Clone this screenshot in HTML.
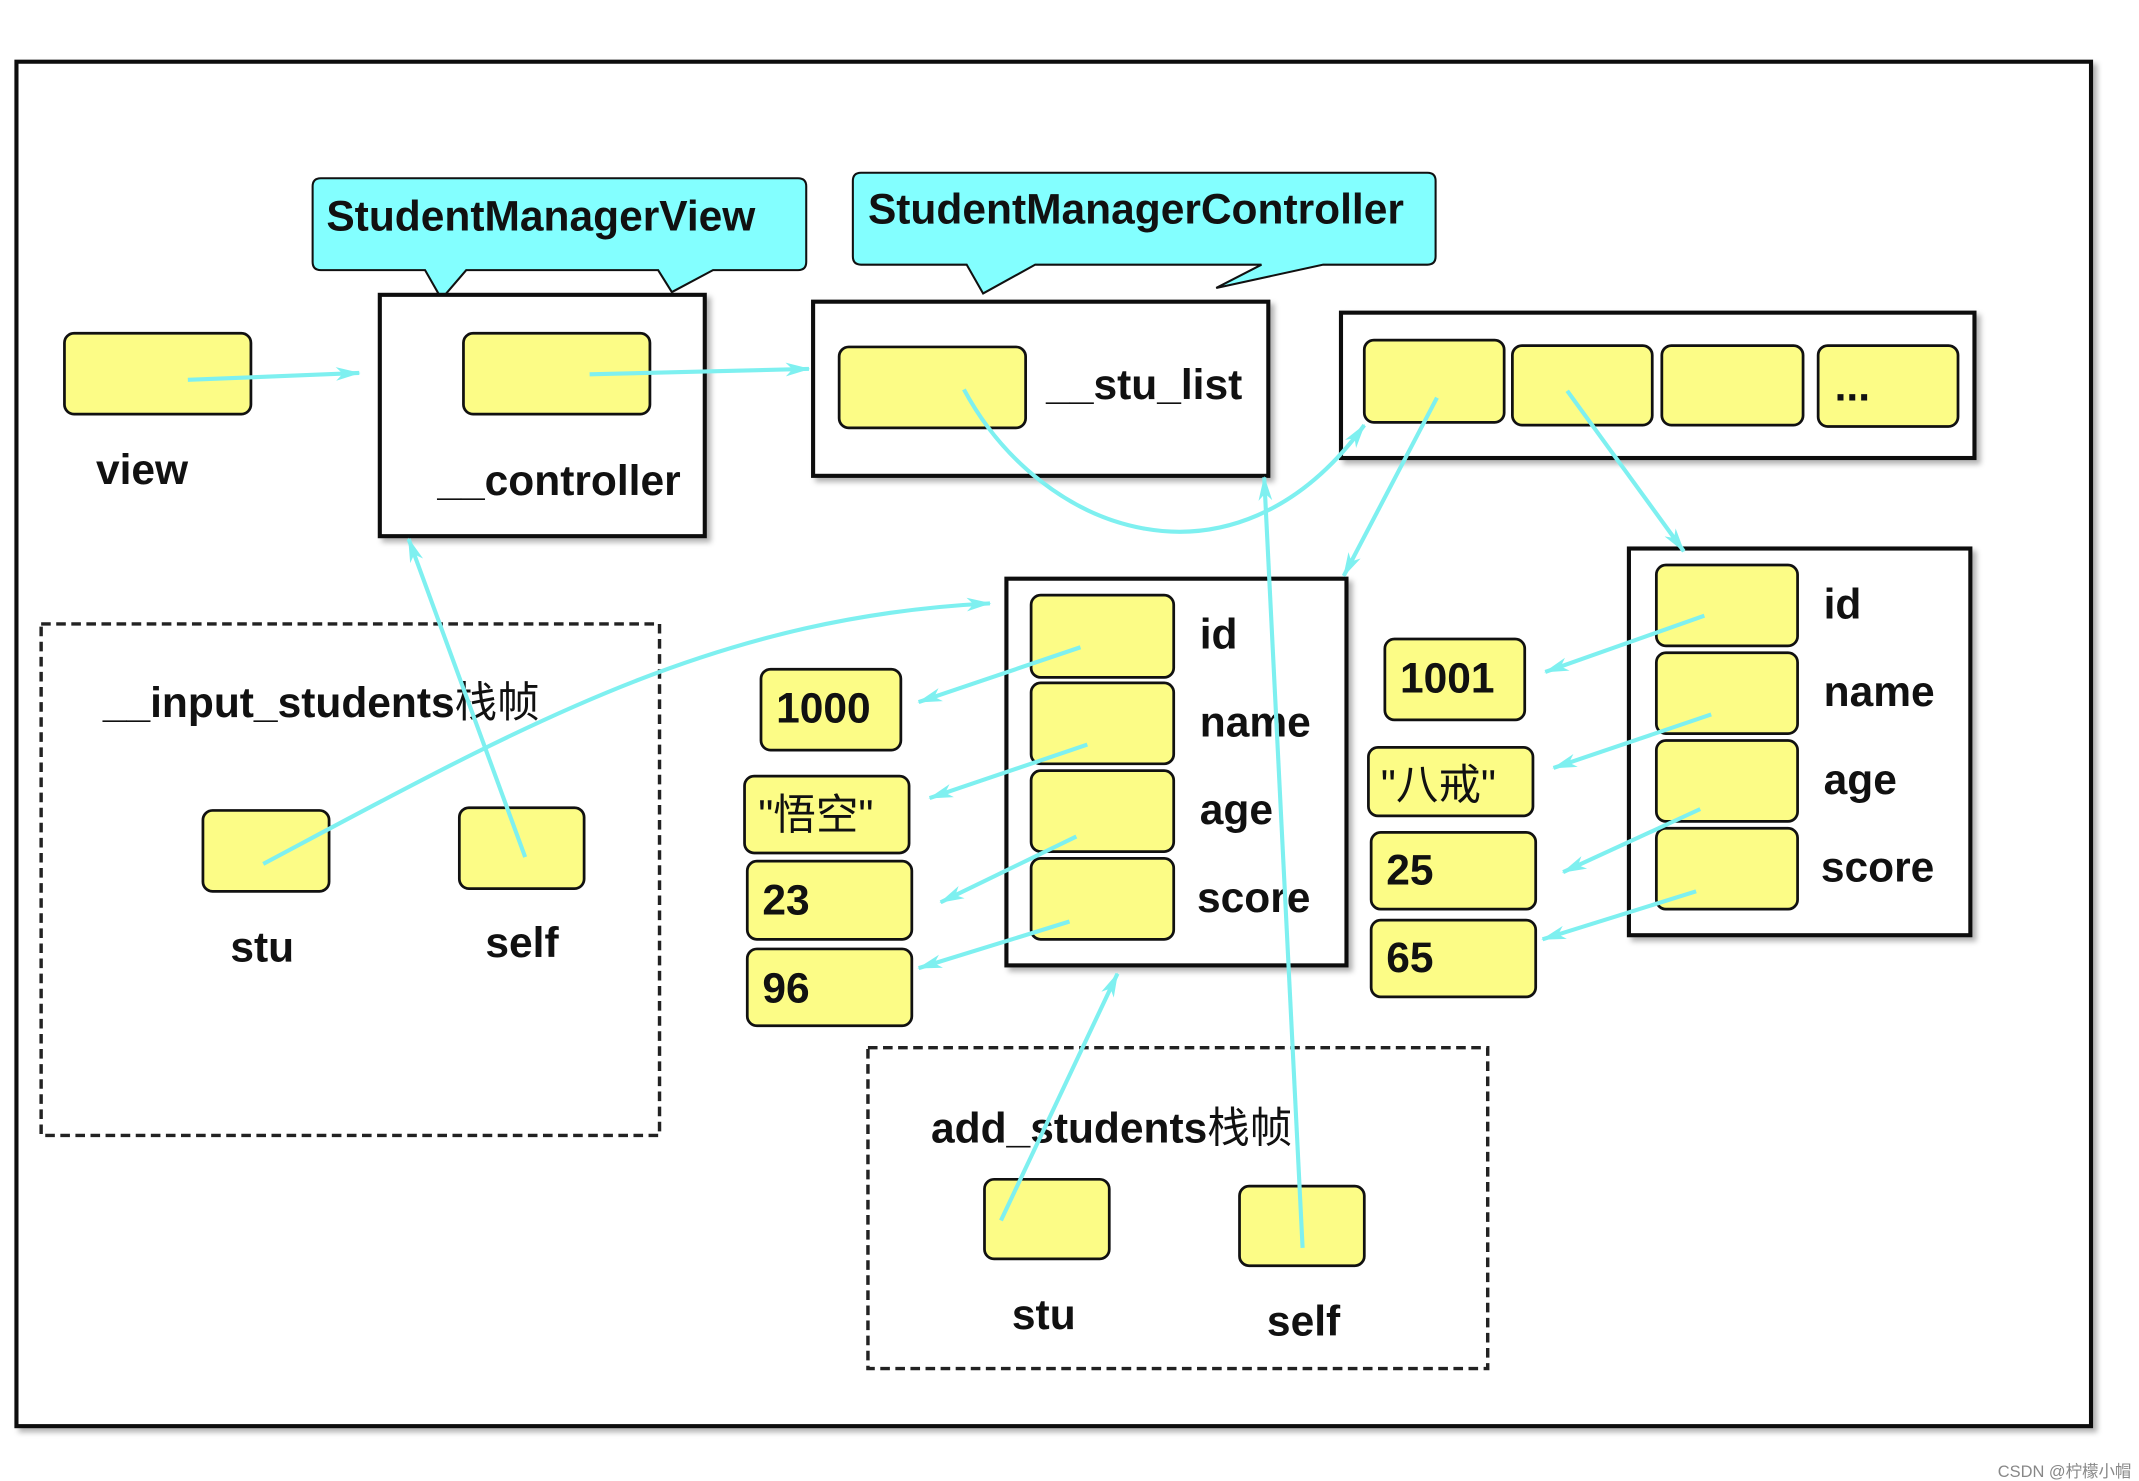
<!DOCTYPE html>
<html><head><meta charset="utf-8"><style>html,body{margin:0;padding:0;background:#fff}svg{display:block}</style></head>
<body>
<svg width="2139" height="1481" viewBox="0 0 1560 1080" preserveAspectRatio="none" xmlns="http://www.w3.org/2000/svg" font-family="Liberation Sans, Noto Sans CJK SC, sans-serif" font-weight="bold">
<defs>
<filter id="sh" x="-5%" y="-5%" width="115%" height="115%"><feDropShadow dx="3" dy="3" stdDeviation="2" flood-color="#000" flood-opacity="0.3"/></filter>
<marker id="ar" markerWidth="18" markerHeight="12" refX="17" refY="6" orient="auto" markerUnits="userSpaceOnUse" viewBox="0 0 18 12"><path d="M0,1 L18,6 L0,11 L5,6 z" fill="#7ef0f0"/></marker>
</defs>
<rect x="12" y="45" width="1513" height="995" fill="#fff" stroke="#111" stroke-width="3" filter="url(#sh)"/>
<g fill="#83ffff" stroke="#111" stroke-width="1.5">
<path d="M234,130 H582 Q588,130 588,136 V191 Q588,197 582,197 H520 L490,213 L480,197 H340 L322,218 L310,197 H234 Q228,197 228,191 V136 Q228,130 234,130 Z"/>
<path d="M628,126 H1041 Q1047,126 1047,132 V187 Q1047,193 1041,193 H965 L887,210 L920,193 H755 L717,214 L705,193 H628 Q622,193 622,187 V132 Q622,126 628,126 Z"/>
</g>
<g font-size="31" fill="#111"><text x="238" y="168">StudentManagerView</text><text x="633" y="163">StudentManagerController</text></g>
<g fill="#fff" stroke="#111" stroke-width="3" filter="url(#sh)">
<rect x="277" y="215" width="237" height="176"/>
<rect x="593" y="220" width="332" height="127"/>
<rect x="978" y="228" width="462" height="106"/>
<rect x="734" y="422" width="248" height="282"/>
<rect x="1188" y="400" width="249" height="282"/>
</g>
<g fill="none" stroke="#222" stroke-width="2.5" stroke-dasharray="7,4">
<rect x="30" y="455" width="451" height="373"/>
<rect x="633" y="764" width="452" height="234"/>
</g>
<g fill="#fcfc86" stroke="#111" stroke-width="2">
<rect x="47" y="243" width="136" height="59" rx="7"/>
<rect x="338" y="243" width="136" height="59" rx="7"/>
<rect x="612" y="253" width="136" height="59" rx="7"/>
<rect x="995" y="248" width="102" height="60" rx="7"/>
<rect x="1103" y="252" width="102" height="58" rx="7"/>
<rect x="1212" y="252" width="103" height="58" rx="7"/>
<rect x="1326" y="252" width="102" height="59" rx="7"/>
<rect x="752" y="434" width="104" height="60" rx="7"/>
<rect x="752" y="498" width="104" height="59" rx="7"/>
<rect x="752" y="562" width="104" height="59" rx="7"/>
<rect x="752" y="626" width="104" height="59" rx="7"/>
<rect x="1208" y="412" width="103" height="59" rx="7"/>
<rect x="1208" y="476" width="103" height="59" rx="7"/>
<rect x="1208" y="540" width="103" height="59" rx="7"/>
<rect x="1208" y="604" width="103" height="59" rx="7"/>
<rect x="555" y="488" width="102" height="59" rx="7"/>
<rect x="543" y="566" width="120" height="56" rx="7"/>
<rect x="545" y="628" width="120" height="57" rx="7"/>
<rect x="545" y="692" width="120" height="56" rx="7"/>
<rect x="1010" y="466" width="102" height="59" rx="7"/>
<rect x="998" y="545" width="120" height="50" rx="7"/>
<rect x="1000" y="607" width="120" height="56" rx="7"/>
<rect x="1000" y="671" width="120" height="56" rx="7"/>
<rect x="148" y="591" width="92" height="59" rx="7"/>
<rect x="335" y="589" width="91" height="59" rx="7"/>
<rect x="718" y="860" width="91" height="58" rx="7"/>
<rect x="904" y="865" width="91" height="58" rx="7"/>
</g>
<g font-size="31" fill="#111">
<text x="70" y="353">view</text>
<text x="319" y="361">__controller</text>
<text x="763" y="291">__stu_list</text>
<text x="1338" y="292">...</text>
<text x="875" y="473">id</text><text x="875" y="537">name</text><text x="875" y="601">age</text><text x="873" y="665">score</text>
<text x="1330" y="451">id</text><text x="1330" y="515">name</text><text x="1330" y="579">age</text><text x="1328" y="643">score</text>
<text x="566" y="527">1000</text>
<text x="553" y="605" font-weight="normal">"悟空"</text>
<text x="556" y="667">23</text>
<text x="556" y="731">96</text>
<text x="1021" y="505">1001</text>
<text x="1007" y="583" font-weight="normal">"八戒"</text>
<text x="1011" y="645">25</text>
<text x="1011" y="709">65</text>
<text x="75" y="523">__input_students<tspan font-weight="normal">栈帧</tspan></text>
<text x="168" y="701">stu</text><text x="354" y="698">self</text>
<text x="679" y="833">add_students<tspan font-weight="normal">栈帧</tspan></text>
<text x="738" y="969">stu</text><text x="924" y="974">self</text>
</g>
<g fill="none" stroke="#7ef0f0" stroke-width="3" marker-end="url(#ar)">
<path d="M137,277 L262,272"/>
<path d="M430,273 L590,269"/>
<path d="M703,284 C760,390 900,440 995,310"/>
<path d="M1048,290 L980,420"/>
<path d="M1143,285 L1228,402"/>
<path d="M192,630 C380,530 520,450 722,440"/>
<path d="M383,625 L298,393"/>
<path d="M730,890 L815,710"/>
<path d="M950,910 L922,348"/>
<path d="M788,472 L670,512"/>
<path d="M793,543 L678,582"/>
<path d="M785,610 L686,658"/>
<path d="M780,672 L670,706"/>
<path d="M1243,449 L1127,490"/>
<path d="M1248,521 L1133,560"/>
<path d="M1240,590 L1140,636"/>
<path d="M1237,650 L1125,685"/>
</g>
<text x="1457" y="1077" font-size="12" font-weight="normal" fill="#888">CSDN @柠檬小帽</text>
</svg>
</body></html>
